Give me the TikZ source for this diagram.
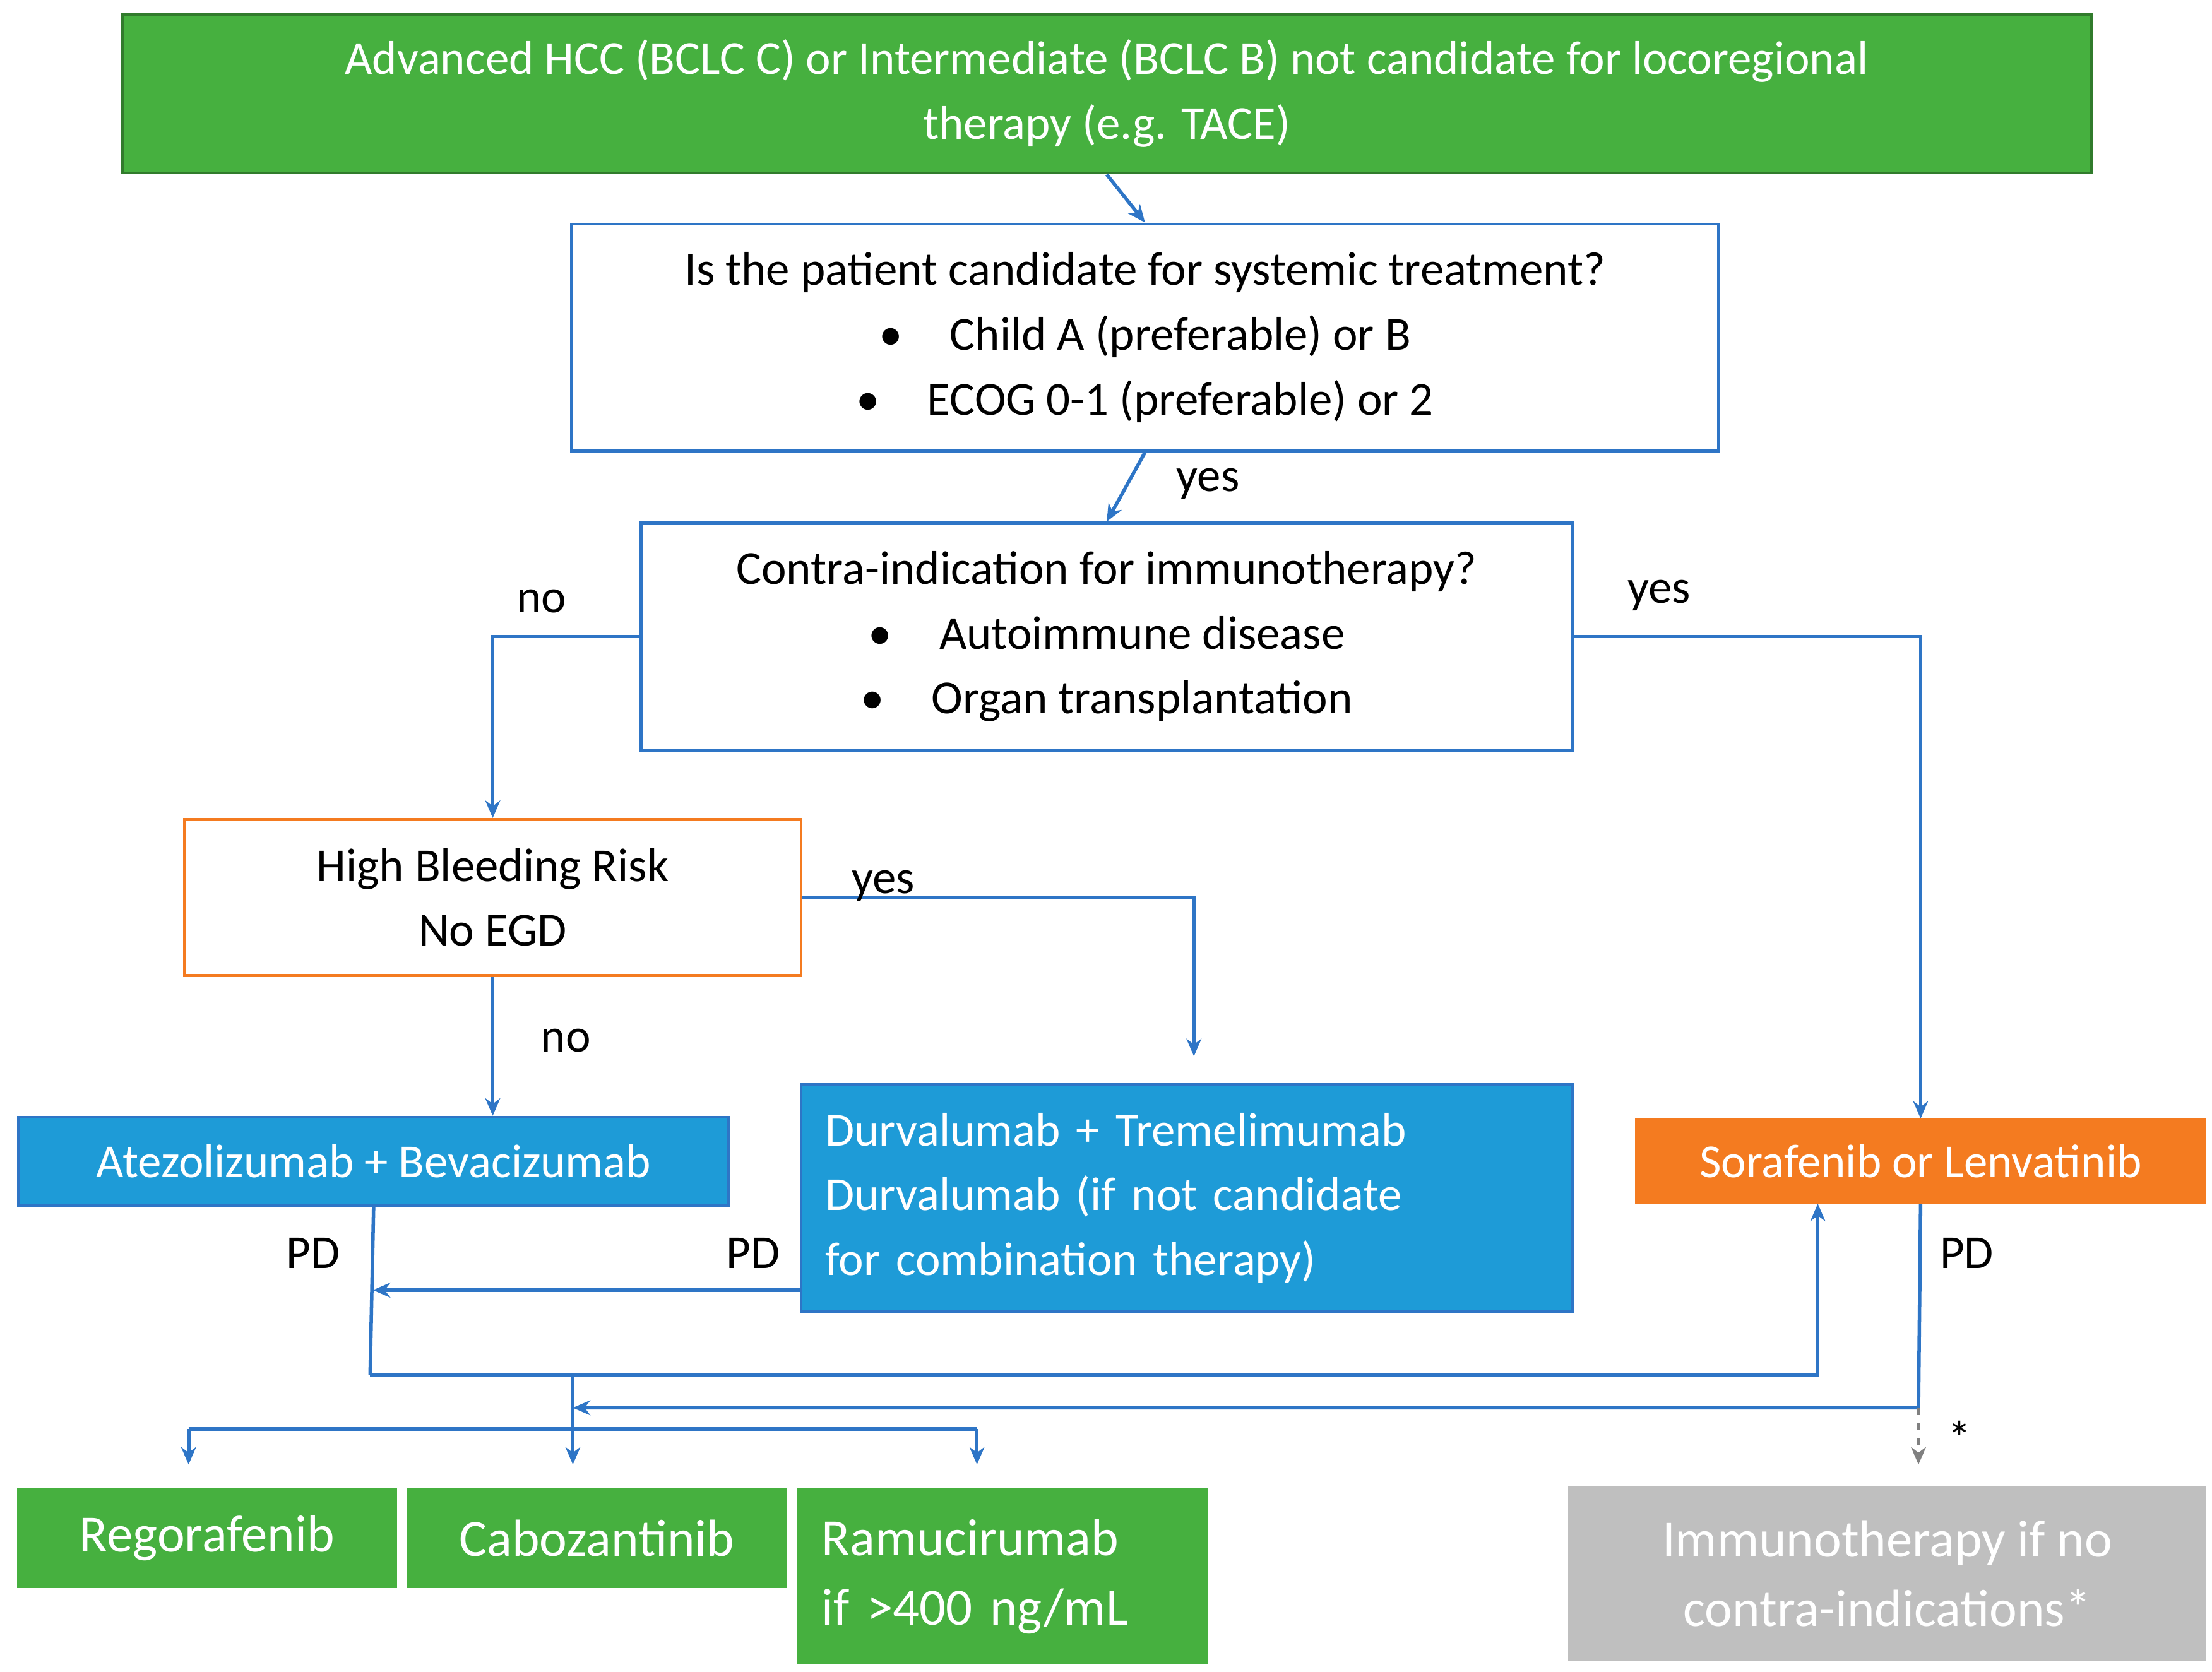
\documentclass[tikz,border=0pt]{standalone}
\usepackage{fontspec}
\setmainfont{Carlito}
\usetikzlibrary{arrows.meta}
\definecolor{cgreen}{HTML}{46B03F}
\definecolor{cblue}{HTML}{2E75C6}
\definecolor{cfill}{HTML}{1E9BD7}
\definecolor{corange}{HTML}{F47B20}
\definecolor{cgray}{HTML}{BFBFBF}
\begin{document}
\begin{tikzpicture}[x=0.02cm,y=-0.02cm,
  box/.style={draw=#1,line width=1.2pt,inner sep=0pt,align=center,font=\fontsize{19}{26}\selectfont},
  conn/.style={draw=cblue,line width=1.4pt},
  arr/.style={conn,-{Stealth[length=7pt,width=6pt]}},
  lab/.style={font=\fontsize{19}{23}\selectfont}]
\useasboundingbox (0,0) rectangle (1560,1179);
\node[box=cgreen!70!black,fill=cgreen,text=white,minimum width=1389*0.02cm,minimum height=112*0.02cm] (top) at (780.5,66) {Advanced HCC (BCLC C) or Intermediate (BCLC B) not candidate for locoregional\\therapy (e.g. TACE)};
\node[box=cblue,fill=white,minimum width=809*0.02cm,minimum height=160*0.02cm] (q1) at (807.5,238) {Is the patient candidate for systemic treatment?\\\textbullet\quad Child A (preferable) or B\\\textbullet\quad ECOG 0-1 (preferable) or 2};
\node[box=cblue,fill=white,minimum width=657*0.02cm,minimum height=160*0.02cm] (q2) at (780.5,449) {Contra-indication for immunotherapy?\\\textbullet\quad Autoimmune disease\\\textbullet\quad Organ transplantation};
\node[box=corange,fill=white,minimum width=435*0.02cm,minimum height=110*0.02cm] (bleed) at (347.5,633) {High Bleeding Risk\\No EGD};
\node[box=cblue,fill=cfill,text=white,minimum width=501*0.02cm,minimum height=62*0.02cm] (atezo) at (263.5,819) {Atezolizumab + Bevacizumab};
\node[box=cblue,fill=cfill,text=white,minimum width=544*0.02cm,minimum height=160*0.02cm,align=left,text width=510*0.02cm] (durva) at (837,845) {Durvalumab + Tremelimumab\\Durvalumab (if not candidate\\for combination therapy)};
\node[box=corange,fill=corange,text=white,minimum width=401*0.02cm,minimum height=58*0.02cm] (sora) at (1354.5,819) {Sorafenib or Lenvatinib};
\node[box=cgreen,fill=cgreen,text=white,minimum width=266*0.02cm,minimum height=68*0.02cm,font=\fontsize{21}{28}\selectfont] (rego) at (146,1085) {Regorafenib};
\node[box=cgreen,fill=cgreen,text=white,minimum width=266*0.02cm,minimum height=68*0.02cm,font=\fontsize{21}{28}\selectfont] (cabo) at (421,1085) {Cabozantinib};
\node[box=cgreen,fill=cgreen,text=white,minimum width=288*0.02cm,minimum height=122*0.02cm,align=left,text width=255*0.02cm,font=\fontsize{21}{28}\selectfont] (ramu) at (707,1112) {Ramucirumab\\if >400 ng/mL};
\node[box=cgray,fill=cgray,text=white,minimum width=448*0.02cm,minimum height=121*0.02cm,font=\fontsize{21}{28}\selectfont] (immu) at (1331,1110) {Immunotherapy if no\\contra-indications*};
% connectors
\draw[arr] (top.south) -- (q1.north);
\draw[arr] (q1.south) -- (q2.north);
\node[lab] (l1) at (852,341) {yes};
\draw[arr] (q2.west) -| (bleed.north);
\node[lab] (l2) at (382,424) {no};
\draw[arr] (q2.east) -| (sora.north);
\node[lab] (l3) at (1170,420) {yes};
\coordinate (dtop) at (842,745);
\draw[arr] (bleed.east) -| (dtop);
\node[lab] (l4) at (623,625) {yes};
\draw[arr] (bleed.south) -- (atezo.north -| bleed.south);
\node[lab] (l5) at (399,734) {no};
\coordinate (j1) at (261,970);
\coordinate (j2) at (263,910);
\draw[conn] (atezo.south) -- (j1);
\node[lab] (l6) at (221,884) {PD};
\draw[arr] (durva.west |- j2) -- (j2);
\node[lab] (l7) at (531,884) {PD};
\coordinate (j3) at (1282,970);
\draw[arr] (j1) -- (j3) -- (sora.south -| j3);
\coordinate (j4) at (1353,993);
\coordinate (j5) at (404,993);
\draw[arr] (sora.south) -- (j4) -- (j5);
\node[lab] (l8) at (1387,884) {PD};
\coordinate (j6) at (404,970);
\coordinate (a1) at (133,1008);
\coordinate (a3) at (689,1008);
\draw[arr] (j6) -- (404,1033);
\draw[conn] (a1) -- (a3);
\draw[arr] (a1) -- (133,1033);
\draw[arr] (a3) -- (689,1033);
\draw[draw=gray,line width=1.4pt,dashed,-{Stealth[length=7pt,width=6pt]}] (j4) -- (1353,1033);
\node[lab] (l9) at (1382,1014) {*};
\end{tikzpicture}
\end{document}
